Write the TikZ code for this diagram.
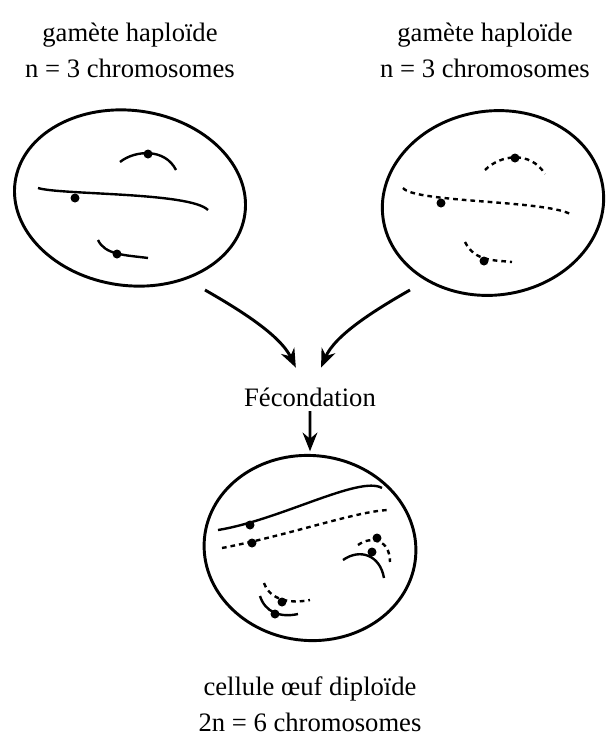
\documentclass[tikz,border=0pt]{standalone}
\usepackage{fontspec}
\setmainfont{Liberation Serif}
\usetikzlibrary{shapes.geometric, arrows}
\tikzset{
	cell/.style = {
		ellipse,
		draw,
		line width=2.2pt,
		black
	},
	chrom/.style = {
		line width=1.8pt,
		black
	},
	dchrom/.style = {
		chrom,
		dash pattern=on 3.5pt off 3pt
	},
	label/.style = {
		align=center,
		font=\fontsize{20}{27}\selectfont
	}
}
\tikzstyle{arrow} = [-{Stealth[length=14pt,width=11pt]},line width=2.2pt,shorten >=2pt]
\usetikzlibrary{arrows.meta}
\newcommand{\centro}[1]{\fill (#1) circle (4.5);}

\begin{document}
\begin{tikzpicture}[x=0.0264cm,y=-0.0264cm]
		\useasboundingbox (0,0) rectangle (613,740);
		\node[label] (tl) at (130,50) {gamète haploïde \\ n = 3 chromosomes};
		\node[label] (tr) at (485,50) {gamète haploïde \\ n = 3 chromosomes};
		\node[cell, minimum width=232*0.0264cm, minimum height=175*0.0264cm, rotate=-8] (gl) at (130,198) {};
		\node[cell, minimum width=222*0.0264cm, minimum height=184*0.0264cm, rotate=8] (gr) at (493,203) {};
		\node[cell, minimum width=212*0.0264cm, minimum height=185*0.0264cm, rotate=-5] (oeuf) at (310,548) {};
		\node[label] (fec) at (310,397) {Fécondation};
		\node[label] (bot) at (310,704) {cellule œuf diploïde \\ 2n = 6 chromosomes};
		% fleches
		\coordinate (dl) at (205,290);
		\coordinate (dr) at (410,290);
		\coordinate (al) at (297,370);
		\coordinate (ar) at (320,370);
		\draw[arrow] (dl) .. controls (240,310) and (280,335) .. (al);
		\draw[arrow] (dr) .. controls (375,310) and (335,335) .. (ar);
		\draw[arrow] (fec) -- (oeuf);
		% gamete gauche
		\draw[chrom] (120,162) .. controls (135,150) and (165,148) .. (176,170);
		\centro{148,154}
		\draw[chrom] (38,188) .. controls (60,195) and (190,192) .. (208,210);
		\centro{75,198}
		\draw[chrom] (98,240) .. controls (105,255) and (125,255) .. (148,258);
		\centro{117,254}
		% gamete droit
		\draw[dchrom] (485,170) .. controls (500,155) and (530,150) .. (545,174);
		\centro{515,158}
		\draw[dchrom] (403,188) .. controls (415,203) and (550,200) .. (572,215);
		\centro{441,203}
		\draw[dchrom] (465,242) .. controls (475,262) and (495,260) .. (512,262);
		\centro{484,261}
		% cellule oeuf
		\draw[chrom] (218,530) .. controls (280,520) and (360,475) .. (382,488);
		\centro{250,525}
		\draw[dchrom] (222,548) .. controls (290,535) and (360,510) .. (390,510);
		\centro{252,543}
		\draw[chrom] (343,560) .. controls (360,548) and (380,555) .. (384,578);
		\centro{372,552}
		\draw[dchrom] (358,545) .. controls (372,535) and (390,540) .. (390,562);
		\centro{377,538}
		\draw[chrom] (260,596) .. controls (265,612) and (280,618) .. (298,614);
		\centro{275,614}
		\draw[dchrom] (264,583) .. controls (270,600) and (290,604) .. (310,600);
		\centro{282,602}
	\end{tikzpicture}
\end{document}
